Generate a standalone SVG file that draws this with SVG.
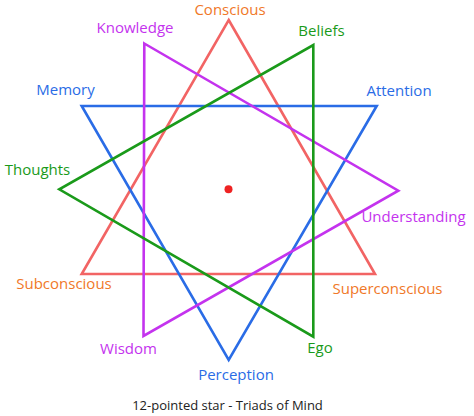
<svg xmlns="http://www.w3.org/2000/svg" width="474" height="416" viewBox="0 0 474 416">
<style>
.t{font-family:"Open Sans","DejaVu Sans",sans-serif;font-size:15px}
.cap{font-family:"Open Sans","DejaVu Sans",sans-serif;font-size:13px;fill:#222}
.tri{fill:none;stroke-width:2.6;stroke-linejoin:miter}
.or{fill:#f07828}.mg{fill:#c433ee}.gr{fill:#1a9a1a}.bl{fill:#2a6ce6}
</style>
<rect width="474" height="416" fill="#fff"/>
<g id="connectors">
<polygon id="red" class="tri" stroke="#f26464" points="228.7,20 375,274 81.7,274"/>
<polygon id="blue" class="tri" stroke="#2a6ce6" points="81.7,106 376.7,106 228.7,360"/>
<polygon id="magenta" class="tri" stroke="#c433ee" points="144.3,43.5 398.3,190.7 143.5,336"/>
<polygon id="green" class="tri" stroke="#1a9a1a" points="313.3,45 313.3,336.7 59.3,189.3"/>
</g>
<g id="center"><circle cx="228.5" cy="189.3" r="4" fill="#ee2222"/></g>
<g id="n-conscious"><text class="t or" x="230" y="15" text-anchor="middle">Conscious</text></g>
<g id="n-knowledge"><text class="t mg" x="135" y="33" text-anchor="middle">Knowledge</text></g>
<g id="n-beliefs"><text class="t gr" x="321.5" y="36" text-anchor="middle">Beliefs</text></g>
<g id="n-memory"><text class="t bl" x="65.5" y="95" text-anchor="middle">Memory</text></g>
<g id="n-attention"><text class="t bl" x="399" y="96" text-anchor="middle">Attention</text></g>
<g id="n-thoughts"><text class="t gr" x="37.5" y="175" text-anchor="middle">Thoughts</text></g>
<g id="n-understanding"><text class="t mg" x="413.5" y="222" text-anchor="middle">Understanding</text></g>
<g id="n-subconscious"><text class="t or" x="64" y="289" text-anchor="middle">Subconscious</text></g>
<g id="n-superconscious"><text class="t or" x="387.5" y="294" text-anchor="middle">Superconscious</text></g>
<g id="n-wisdom"><text class="t mg" x="128.5" y="354" text-anchor="middle">Wisdom</text></g>
<g id="n-ego"><text class="t gr" x="320" y="353" text-anchor="middle">Ego</text></g>
<g id="n-perception"><text class="t bl" x="236" y="380" text-anchor="middle">Perception</text></g>
<g id="caption"><text class="cap" x="227.5" y="410" text-anchor="middle">12-pointed star - Triads of Mind</text></g>
</svg>
